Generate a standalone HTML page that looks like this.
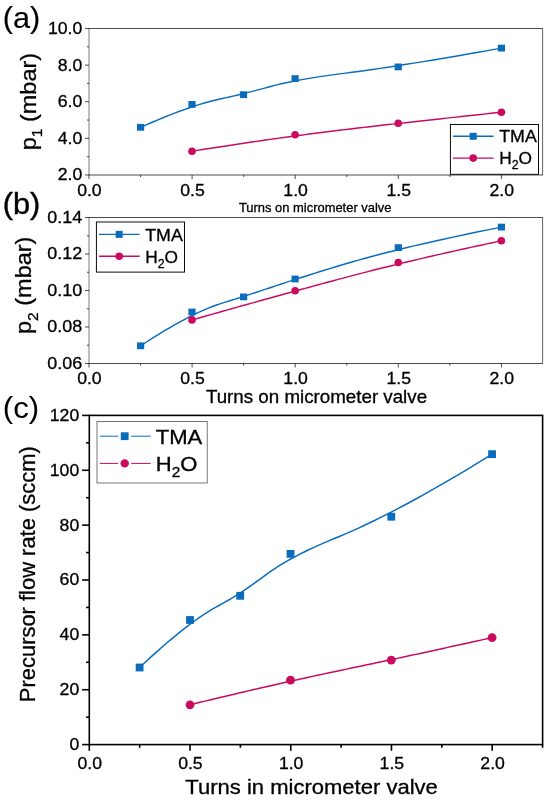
<!DOCTYPE html>
<html lang="en">
<head>
<meta charset="utf-8">
<title>Precursor pressure and flow rate versus micrometer valve turns</title>
<style>
html,body{margin:0;padding:0;background:#fff;}
body{width:550px;height:801px;overflow:hidden;}
svg{display:block;font-family:"Liberation Sans",sans-serif;}
</style>
</head>
<body>
<svg width="550" height="801" viewBox="0 0 550 801">
<rect width="550" height="801" fill="#fff"/>
<line x1="88.7" y1="28.5" x2="542.9" y2="28.5" stroke="#000" stroke-width="0.7"/>
<line x1="88.7" y1="175" x2="542.9" y2="175" stroke="#000" stroke-width="0.7"/>
<line x1="89" y1="28.5" x2="89" y2="175" stroke="#000" stroke-width="0.52"/>
<line x1="542.6" y1="28.5" x2="542.6" y2="175" stroke="#000" stroke-width="0.62"/>
<line x1="85" y1="28.5" x2="89" y2="28.5" stroke="#000" stroke-width="0.7"/>
<text transform="translate(82.2 33.9) scale(1.05 1)" font-size="16.8" text-anchor="end" fill="#000" stroke="#000" stroke-width="0.3">10.0</text>
<line x1="87" y1="46.81" x2="89" y2="46.81" stroke="#000" stroke-width="0.7"/>
<line x1="85" y1="65.12" x2="89" y2="65.12" stroke="#000" stroke-width="0.7"/>
<text transform="translate(82.2 70.53) scale(1.05 1)" font-size="16.8" text-anchor="end" fill="#000" stroke="#000" stroke-width="0.3">8.0</text>
<line x1="87" y1="83.44" x2="89" y2="83.44" stroke="#000" stroke-width="0.7"/>
<line x1="85" y1="101.75" x2="89" y2="101.75" stroke="#000" stroke-width="0.7"/>
<text transform="translate(82.2 107.15) scale(1.05 1)" font-size="16.8" text-anchor="end" fill="#000" stroke="#000" stroke-width="0.3">6.0</text>
<line x1="87" y1="120.06" x2="89" y2="120.06" stroke="#000" stroke-width="0.7"/>
<line x1="85" y1="138.38" x2="89" y2="138.38" stroke="#000" stroke-width="0.7"/>
<text transform="translate(82.2 143.78) scale(1.05 1)" font-size="16.8" text-anchor="end" fill="#000" stroke="#000" stroke-width="0.3">4.0</text>
<line x1="87" y1="156.69" x2="89" y2="156.69" stroke="#000" stroke-width="0.7"/>
<line x1="85" y1="175" x2="89" y2="175" stroke="#000" stroke-width="0.7"/>
<text transform="translate(82.2 180.4) scale(1.05 1)" font-size="16.8" text-anchor="end" fill="#000" stroke="#000" stroke-width="0.3">2.0</text>
<line x1="89" y1="175" x2="89" y2="179" stroke="#000" stroke-width="0.7"/>
<text transform="translate(89.4 195.5) scale(1.05 1)" font-size="16.8" text-anchor="middle" fill="#000" stroke="#000" stroke-width="0.3">0.0</text>
<line x1="140.55" y1="175" x2="140.55" y2="177" stroke="#000" stroke-width="0.7"/>
<line x1="192.1" y1="175" x2="192.1" y2="179" stroke="#000" stroke-width="0.7"/>
<text transform="translate(192.5 195.5) scale(1.05 1)" font-size="16.8" text-anchor="middle" fill="#000" stroke="#000" stroke-width="0.3">0.5</text>
<line x1="243.65" y1="175" x2="243.65" y2="177" stroke="#000" stroke-width="0.7"/>
<line x1="295.2" y1="175" x2="295.2" y2="179" stroke="#000" stroke-width="0.7"/>
<text transform="translate(295.6 195.5) scale(1.05 1)" font-size="16.8" text-anchor="middle" fill="#000" stroke="#000" stroke-width="0.3">1.0</text>
<line x1="346.75" y1="175" x2="346.75" y2="177" stroke="#000" stroke-width="0.7"/>
<line x1="398.3" y1="175" x2="398.3" y2="179" stroke="#000" stroke-width="0.7"/>
<text transform="translate(398.7 195.5) scale(1.05 1)" font-size="16.8" text-anchor="middle" fill="#000" stroke="#000" stroke-width="0.3">1.5</text>
<line x1="449.85" y1="175" x2="449.85" y2="177" stroke="#000" stroke-width="0.7"/>
<line x1="501.4" y1="175" x2="501.4" y2="179" stroke="#000" stroke-width="0.7"/>
<text transform="translate(501.8 195.5) scale(1.05 1)" font-size="16.8" text-anchor="middle" fill="#000" stroke="#000" stroke-width="0.3">2.0</text>
<text transform="translate(2.8 27.8) scale(1.04 1)" font-size="29.5" text-anchor="start" fill="#000" stroke="#000" stroke-width="0.15">(a)</text>
<text transform="translate(35.8 101.6) rotate(-90) scale(1.04 1)" font-size="22.6" text-anchor="middle" fill="#000" stroke="#000" stroke-width="0.3">p<tspan font-size="15" dy="6.4">1</tspan><tspan dy="-6.4"> (mbar)</tspan></text>
<text transform="translate(315.2 211.8) scale(1.01 1)" font-size="12.8" text-anchor="middle" fill="#000" stroke="#000" stroke-width="0.3">Turns on micrometer valve</text>
<path d="M140.6 127.3 L146.82 124.56 L152.81 121.98 L158.58 119.55 L164.13 117.27 L169.47 115.14 L174.61 113.15 L179.55 111.29 L184.29 109.56 L188.84 107.96 L193.21 106.49 L197.4 105.13 L201.42 103.89 L205.27 102.75 L208.95 101.72 L212.48 100.79 L215.86 99.95 L219.08 99.2 L222.19 98.52 L225.25 97.86 L228.26 97.2 L231.23 96.54 L234.17 95.87 L237.07 95.2 L239.96 94.52 L242.82 93.82 L245.67 93.12 L248.51 92.4 L251.35 91.67 L254.2 90.92 L257.05 90.17 L259.91 89.4 L262.79 88.62 L265.69 87.83 L268.63 87.03 L271.61 86.21 L274.7 85.4 L277.92 84.6 L281.28 83.8 L284.79 83.01 L288.43 82.22 L292.24 81.44 L296.19 80.66 L300.32 79.9 L304.61 79.13 L309.07 78.38 L313.71 77.63 L318.54 76.88 L323.55 76.14 L328.77 75.4 L334.2 74.65 L339.85 73.9 L345.73 73.14 L351.9 72.32 L358.4 71.44 L365.25 70.49 L372.44 69.47 L379.98 68.37 L387.89 67.19 L396.18 65.93 L404.84 64.59 L413.9 63.15 L423.35 61.63 L433.21 60 L443.49 58.28 L454.19 56.46 L465.32 54.54 L476.9 52.5 L488.92 50.36 L501.4 48.1" fill="none" stroke="#0a6cbd" stroke-width="1.45" stroke-linejoin="round" stroke-linecap="round"/>
<rect x="137" y="123.9" width="7.2" height="6.8" fill="#0a6cbd"/>
<rect x="188.4" y="101" width="7.2" height="6.8" fill="#0a6cbd"/>
<rect x="239.9" y="91.3" width="7.2" height="6.8" fill="#0a6cbd"/>
<rect x="291.5" y="75.2" width="7.2" height="6.8" fill="#0a6cbd"/>
<rect x="394.6" y="63.5" width="7.2" height="6.8" fill="#0a6cbd"/>
<rect x="497.8" y="44.7" width="7.2" height="6.8" fill="#0a6cbd"/>
<path d="M192 151.2 L197.21 150.37 L202.37 149.56 L207.49 148.76 L212.57 147.97 L217.61 147.19 L222.6 146.42 L227.55 145.67 L232.45 144.93 L237.31 144.2 L242.13 143.48 L246.91 142.77 L251.64 142.07 L256.33 141.39 L260.97 140.71 L265.57 140.05 L270.13 139.4 L274.65 138.76 L279.12 138.14 L283.55 137.52 L287.93 136.91 L292.28 136.32 L296.57 135.74 L300.83 135.17 L305.04 134.61 L309.21 134.06 L313.34 133.52 L317.42 132.99 L321.46 132.47 L325.45 131.97 L329.41 131.47 L333.31 130.99 L337.18 130.52 L341 130.05 L344.78 129.6 L348.53 129.16 L352.31 128.72 L356.13 128.27 L360 127.82 L363.91 127.37 L367.86 126.91 L371.86 126.45 L375.9 125.99 L379.98 125.53 L384.11 125.06 L388.28 124.59 L392.49 124.11 L396.75 123.63 L401.05 123.15 L405.39 122.67 L409.78 122.18 L414.21 121.69 L418.69 121.19 L423.21 120.69 L427.77 120.19 L432.37 119.69 L437.02 119.18 L441.71 118.66 L446.45 118.15 L451.22 117.63 L456.05 117.1 L460.91 116.57 L465.82 116.04 L470.77 115.5 L475.77 114.96 L480.81 114.42 L485.89 113.87 L491.02 113.32 L496.19 112.76 L501.4 112.2" fill="none" stroke="#c90a5e" stroke-width="1.45" stroke-linejoin="round" stroke-linecap="round"/>
<circle cx="192" cy="151.2" r="3.8" fill="#c90a5e"/>
<circle cx="295.1" cy="134.8" r="3.8" fill="#c90a5e"/>
<circle cx="398.2" cy="123.3" r="3.8" fill="#c90a5e"/>
<circle cx="501.4" cy="112.2" r="3.8" fill="#c90a5e"/>
<rect x="450.4" y="124.5" width="88.1" height="49.8" fill="#fff" stroke="#000" stroke-width="0.95"/>
<line x1="453" y1="136.3" x2="493.6" y2="136.3" stroke="#0a6cbd" stroke-width="1.4"/>
<rect x="469.7" y="132.8" width="7" height="7" fill="#0a6cbd"/>
<line x1="453" y1="158.1" x2="493.6" y2="158.1" stroke="#c90a5e" stroke-width="1.4"/>
<circle cx="473.2" cy="158.1" r="3.8" fill="#c90a5e"/>
<text transform="translate(499.2 142.4) scale(1.03 1)" font-size="17.3" text-anchor="start" fill="#000" stroke="#000" stroke-width="0.3">TMA</text>
<text transform="translate(499.2 164.4)" font-size="17.3" text-anchor="start" fill="#000" stroke="#000" stroke-width="0.3">H<tspan font-size="12.3" dy="5">2</tspan><tspan dy="-5">O</tspan></text>
<line x1="88.7" y1="217.5" x2="542.9" y2="217.5" stroke="#000" stroke-width="0.7"/>
<line x1="88.7" y1="363.5" x2="542.9" y2="363.5" stroke="#000" stroke-width="0.7"/>
<line x1="89" y1="217.5" x2="89" y2="363.5" stroke="#000" stroke-width="0.52"/>
<line x1="542.6" y1="217.5" x2="542.6" y2="363.5" stroke="#000" stroke-width="0.62"/>
<line x1="85" y1="217.5" x2="89" y2="217.5" stroke="#000" stroke-width="0.7"/>
<text transform="translate(82.2 222.9) scale(1.07 1)" font-size="16.8" text-anchor="end" fill="#000" stroke="#000" stroke-width="0.3">0.14</text>
<line x1="87" y1="235.75" x2="89" y2="235.75" stroke="#000" stroke-width="0.7"/>
<line x1="85" y1="254" x2="89" y2="254" stroke="#000" stroke-width="0.7"/>
<text transform="translate(82.2 259.4) scale(1.07 1)" font-size="16.8" text-anchor="end" fill="#000" stroke="#000" stroke-width="0.3">0.12</text>
<line x1="87" y1="272.25" x2="89" y2="272.25" stroke="#000" stroke-width="0.7"/>
<line x1="85" y1="290.5" x2="89" y2="290.5" stroke="#000" stroke-width="0.7"/>
<text transform="translate(82.2 295.9) scale(1.07 1)" font-size="16.8" text-anchor="end" fill="#000" stroke="#000" stroke-width="0.3">0.10</text>
<line x1="87" y1="308.75" x2="89" y2="308.75" stroke="#000" stroke-width="0.7"/>
<line x1="85" y1="327" x2="89" y2="327" stroke="#000" stroke-width="0.7"/>
<text transform="translate(82.2 332.4) scale(1.07 1)" font-size="16.8" text-anchor="end" fill="#000" stroke="#000" stroke-width="0.3">0.08</text>
<line x1="87" y1="345.25" x2="89" y2="345.25" stroke="#000" stroke-width="0.7"/>
<line x1="85" y1="363.5" x2="89" y2="363.5" stroke="#000" stroke-width="0.7"/>
<text transform="translate(82.2 368.9) scale(1.07 1)" font-size="16.8" text-anchor="end" fill="#000" stroke="#000" stroke-width="0.3">0.06</text>
<line x1="89" y1="363.5" x2="89" y2="367.5" stroke="#000" stroke-width="0.7"/>
<text transform="translate(89.4 384.3) scale(1.05 1)" font-size="16.8" text-anchor="middle" fill="#000" stroke="#000" stroke-width="0.3">0.0</text>
<line x1="140.55" y1="363.5" x2="140.55" y2="365.5" stroke="#000" stroke-width="0.7"/>
<line x1="192.1" y1="363.5" x2="192.1" y2="367.5" stroke="#000" stroke-width="0.7"/>
<text transform="translate(192.5 384.3) scale(1.05 1)" font-size="16.8" text-anchor="middle" fill="#000" stroke="#000" stroke-width="0.3">0.5</text>
<line x1="243.65" y1="363.5" x2="243.65" y2="365.5" stroke="#000" stroke-width="0.7"/>
<line x1="295.2" y1="363.5" x2="295.2" y2="367.5" stroke="#000" stroke-width="0.7"/>
<text transform="translate(295.6 384.3) scale(1.05 1)" font-size="16.8" text-anchor="middle" fill="#000" stroke="#000" stroke-width="0.3">1.0</text>
<line x1="346.75" y1="363.5" x2="346.75" y2="365.5" stroke="#000" stroke-width="0.7"/>
<line x1="398.3" y1="363.5" x2="398.3" y2="367.5" stroke="#000" stroke-width="0.7"/>
<text transform="translate(398.7 384.3) scale(1.05 1)" font-size="16.8" text-anchor="middle" fill="#000" stroke="#000" stroke-width="0.3">1.5</text>
<line x1="449.85" y1="363.5" x2="449.85" y2="365.5" stroke="#000" stroke-width="0.7"/>
<line x1="501.4" y1="363.5" x2="501.4" y2="367.5" stroke="#000" stroke-width="0.7"/>
<text transform="translate(501.8 384.3) scale(1.05 1)" font-size="16.8" text-anchor="middle" fill="#000" stroke="#000" stroke-width="0.3">2.0</text>
<text transform="translate(2.8 214.1) scale(1.04 1)" font-size="29.5" text-anchor="start" fill="#000" stroke="#000" stroke-width="0.4">(b)</text>
<text transform="translate(31.1 285.3) rotate(-90) scale(1.04 1)" font-size="22.6" text-anchor="middle" fill="#000" stroke="#000" stroke-width="0.3">p<tspan font-size="15" dy="6.4">2</tspan><tspan dy="-6.4"> (mbar)</tspan></text>
<text transform="translate(316.5 402.8) scale(1.06 1)" font-size="17.7" text-anchor="middle" fill="#000" stroke="#000" stroke-width="0.3">Turns on micrometer valve</text>
<path d="M140.6 345.8 L146.82 341.75 L152.81 337.94 L158.58 334.35 L164.13 330.97 L169.48 327.81 L174.62 324.86 L179.56 322.1 L184.3 319.54 L188.86 317.17 L193.23 314.97 L197.43 312.95 L201.45 311.1 L205.3 309.41 L208.99 307.87 L212.52 306.48 L215.9 305.24 L219.13 304.13 L222.24 303.13 L225.3 302.16 L228.32 301.22 L231.29 300.3 L234.23 299.38 L237.14 298.48 L240.02 297.57 L242.89 296.66 L245.74 295.75 L248.58 294.84 L251.42 293.92 L254.26 292.99 L257.11 292.05 L259.97 291.11 L262.85 290.15 L265.75 289.18 L268.68 288.19 L271.65 287.19 L274.74 286.16 L277.96 285.08 L281.32 283.97 L284.82 282.83 L288.47 281.64 L292.27 280.41 L296.23 279.13 L300.35 277.81 L304.64 276.45 L309.1 275.04 L313.74 273.57 L318.57 272.06 L323.59 270.5 L328.82 268.89 L334.25 267.23 L339.9 265.52 L345.78 263.75 L351.95 261.95 L358.46 260.09 L365.31 258.2 L372.5 256.26 L380.05 254.28 L387.96 252.25 L396.24 250.18 L404.9 248.07 L413.96 245.91 L423.41 243.71 L433.26 241.47 L443.53 239.18 L454.23 236.85 L465.35 234.48 L476.92 232.06 L488.93 229.6 L501.4 227.1" fill="none" stroke="#0a6cbd" stroke-width="1.45" stroke-linejoin="round" stroke-linecap="round"/>
<rect x="137" y="342.4" width="7.2" height="6.8" fill="#0a6cbd"/>
<rect x="188.4" y="308.6" width="7.2" height="6.8" fill="#0a6cbd"/>
<rect x="240" y="293.5" width="7.2" height="6.8" fill="#0a6cbd"/>
<rect x="291.5" y="275.6" width="7.2" height="6.8" fill="#0a6cbd"/>
<rect x="394.7" y="244.2" width="7.2" height="6.8" fill="#0a6cbd"/>
<rect x="497.8" y="223.7" width="7.2" height="6.8" fill="#0a6cbd"/>
<path d="M192 319.9 L197.21 318.43 L202.37 316.97 L207.49 315.53 L212.57 314.1 L217.61 312.68 L222.6 311.28 L227.55 309.89 L232.45 308.51 L237.32 307.15 L242.14 305.8 L246.91 304.47 L251.65 303.14 L256.33 301.83 L260.98 300.54 L265.58 299.26 L270.14 297.99 L274.66 296.74 L279.13 295.5 L283.56 294.27 L287.95 293.06 L292.29 291.86 L296.59 290.68 L300.85 289.51 L305.07 288.36 L309.24 287.22 L313.36 286.09 L317.45 284.98 L321.49 283.88 L325.49 282.8 L329.44 281.73 L333.35 280.68 L337.22 279.64 L341.04 278.62 L344.83 277.61 L348.57 276.62 L352.36 275.62 L356.18 274.62 L360.05 273.61 L363.96 272.6 L367.91 271.59 L371.91 270.57 L375.95 269.55 L380.04 268.53 L384.16 267.5 L388.33 266.47 L392.55 265.43 L396.81 264.39 L401.11 263.35 L405.45 262.31 L409.84 261.26 L414.27 260.21 L418.74 259.15 L423.26 258.1 L427.82 257.04 L432.42 255.97 L437.07 254.91 L441.75 253.84 L446.49 252.76 L451.26 251.69 L456.08 250.61 L460.95 249.53 L465.85 248.45 L470.8 247.36 L475.79 246.28 L480.83 245.18 L485.91 244.09 L491.03 243 L496.19 241.9 L501.4 240.8" fill="none" stroke="#c90a5e" stroke-width="1.45" stroke-linejoin="round" stroke-linecap="round"/>
<circle cx="192" cy="319.9" r="3.8" fill="#c90a5e"/>
<circle cx="295.1" cy="290.8" r="3.8" fill="#c90a5e"/>
<circle cx="398.3" cy="262.5" r="3.8" fill="#c90a5e"/>
<circle cx="501.4" cy="240.8" r="3.8" fill="#c90a5e"/>
<rect x="96.4" y="222" width="88.1" height="50.1" fill="#fff" stroke="#000" stroke-width="0.95"/>
<line x1="99" y1="234.4" x2="139.6" y2="234.4" stroke="#0a6cbd" stroke-width="1.4"/>
<rect x="115.7" y="230.9" width="7" height="7" fill="#0a6cbd"/>
<line x1="99" y1="256.2" x2="139.6" y2="256.2" stroke="#c90a5e" stroke-width="1.4"/>
<circle cx="119.2" cy="256.2" r="3.8" fill="#c90a5e"/>
<text transform="translate(145.2 240.5) scale(1.03 1)" font-size="17.3" text-anchor="start" fill="#000" stroke="#000" stroke-width="0.3">TMA</text>
<text transform="translate(145.2 262.5)" font-size="17.3" text-anchor="start" fill="#000" stroke="#000" stroke-width="0.3">H<tspan font-size="12.3" dy="5">2</tspan><tspan dy="-5">O</tspan></text>
<rect x="89.3" y="415.4" width="453.3" height="329.2" fill="none" stroke="#000" stroke-width="1.6"/>
<line x1="82.1" y1="415.4" x2="89.3" y2="415.4" stroke="#000" stroke-width="1.6"/>
<text transform="translate(79.2 420.8) scale(1.05 1)" font-size="16.8" text-anchor="end" fill="#000" stroke="#000" stroke-width="0.3">120</text>
<line x1="86.1" y1="442.83" x2="89.3" y2="442.83" stroke="#000" stroke-width="1.6"/>
<line x1="82.1" y1="470.27" x2="89.3" y2="470.27" stroke="#000" stroke-width="1.6"/>
<text transform="translate(79.2 475.67) scale(1.05 1)" font-size="16.8" text-anchor="end" fill="#000" stroke="#000" stroke-width="0.3">100</text>
<line x1="86.1" y1="497.7" x2="89.3" y2="497.7" stroke="#000" stroke-width="1.6"/>
<line x1="82.1" y1="525.13" x2="89.3" y2="525.13" stroke="#000" stroke-width="1.6"/>
<text transform="translate(79.2 530.53) scale(1.05 1)" font-size="16.8" text-anchor="end" fill="#000" stroke="#000" stroke-width="0.3">80</text>
<line x1="86.1" y1="552.57" x2="89.3" y2="552.57" stroke="#000" stroke-width="1.6"/>
<line x1="82.1" y1="580" x2="89.3" y2="580" stroke="#000" stroke-width="1.6"/>
<text transform="translate(79.2 585.4) scale(1.05 1)" font-size="16.8" text-anchor="end" fill="#000" stroke="#000" stroke-width="0.3">60</text>
<line x1="86.1" y1="607.43" x2="89.3" y2="607.43" stroke="#000" stroke-width="1.6"/>
<line x1="82.1" y1="634.87" x2="89.3" y2="634.87" stroke="#000" stroke-width="1.6"/>
<text transform="translate(79.2 640.27) scale(1.05 1)" font-size="16.8" text-anchor="end" fill="#000" stroke="#000" stroke-width="0.3">40</text>
<line x1="86.1" y1="662.3" x2="89.3" y2="662.3" stroke="#000" stroke-width="1.6"/>
<line x1="82.1" y1="689.73" x2="89.3" y2="689.73" stroke="#000" stroke-width="1.6"/>
<text transform="translate(79.2 695.13) scale(1.05 1)" font-size="16.8" text-anchor="end" fill="#000" stroke="#000" stroke-width="0.3">20</text>
<line x1="86.1" y1="717.17" x2="89.3" y2="717.17" stroke="#000" stroke-width="1.6"/>
<line x1="82.1" y1="744.6" x2="89.3" y2="744.6" stroke="#000" stroke-width="1.6"/>
<text transform="translate(79.2 750) scale(1.05 1)" font-size="16.8" text-anchor="end" fill="#000" stroke="#000" stroke-width="0.3">0</text>
<line x1="89.3" y1="744.6" x2="89.3" y2="750.8" stroke="#000" stroke-width="1.6"/>
<text transform="translate(89.7 768.8) scale(1.05 1)" font-size="16.8" text-anchor="middle" fill="#000" stroke="#000" stroke-width="0.3">0.0</text>
<line x1="139.66" y1="744.6" x2="139.66" y2="747.8" stroke="#000" stroke-width="1.6"/>
<line x1="190.02" y1="744.6" x2="190.02" y2="750.8" stroke="#000" stroke-width="1.6"/>
<text transform="translate(190.42 768.8) scale(1.05 1)" font-size="16.8" text-anchor="middle" fill="#000" stroke="#000" stroke-width="0.3">0.5</text>
<line x1="240.39" y1="744.6" x2="240.39" y2="747.8" stroke="#000" stroke-width="1.6"/>
<line x1="290.75" y1="744.6" x2="290.75" y2="750.8" stroke="#000" stroke-width="1.6"/>
<text transform="translate(291.15 768.8) scale(1.05 1)" font-size="16.8" text-anchor="middle" fill="#000" stroke="#000" stroke-width="0.3">1.0</text>
<line x1="341.11" y1="744.6" x2="341.11" y2="747.8" stroke="#000" stroke-width="1.6"/>
<line x1="391.47" y1="744.6" x2="391.47" y2="750.8" stroke="#000" stroke-width="1.6"/>
<text transform="translate(391.87 768.8) scale(1.05 1)" font-size="16.8" text-anchor="middle" fill="#000" stroke="#000" stroke-width="0.3">1.5</text>
<line x1="441.84" y1="744.6" x2="441.84" y2="747.8" stroke="#000" stroke-width="1.6"/>
<line x1="492.2" y1="744.6" x2="492.2" y2="750.8" stroke="#000" stroke-width="1.6"/>
<text transform="translate(492.6 768.8) scale(1.05 1)" font-size="16.8" text-anchor="middle" fill="#000" stroke="#000" stroke-width="0.3">2.0</text>
<line x1="542.56" y1="744.6" x2="542.56" y2="747.8" stroke="#000" stroke-width="1.6"/>
<text transform="translate(2.8 417.7) scale(1.06 1)" font-size="29.5" text-anchor="start" fill="#000">(c)</text>
<text transform="translate(35.2 574.2) rotate(-90) scale(1.03 1)" font-size="21.3" text-anchor="middle" fill="#000" stroke="#000" stroke-width="0.3">Precursor flow rate (sccm)</text>
<text transform="translate(311.6 794.2) scale(1.08 1)" font-size="20.4" text-anchor="middle" fill="#000" stroke="#000" stroke-width="0.3">Turns in micrometer valve</text>
<path d="M139.6 667.5 L145.7 661.81 L151.57 656.42 L157.22 651.34 L162.66 646.56 L167.9 642.05 L172.93 637.82 L177.76 633.86 L182.4 630.16 L186.86 626.7 L191.13 623.48 L195.23 620.49 L199.15 617.72 L202.91 615.17 L206.51 612.82 L209.95 610.66 L213.25 608.69 L216.4 606.89 L219.43 605.22 L222.41 603.56 L225.34 601.91 L228.24 600.25 L231.1 598.56 L233.94 596.86 L236.75 595.12 L239.54 593.34 L242.32 591.53 L245.09 589.68 L247.86 587.8 L250.63 585.88 L253.41 583.92 L256.2 581.93 L259.01 579.9 L261.84 577.83 L264.7 575.72 L267.6 573.57 L270.62 571.42 L273.77 569.27 L277.04 567.12 L280.46 564.96 L284.02 562.8 L287.74 560.64 L291.6 558.48 L295.63 556.31 L299.82 554.13 L304.18 551.96 L308.71 549.77 L313.43 547.58 L318.33 545.38 L323.43 543.15 L328.74 540.88 L334.26 538.56 L340 536.19 L346.03 533.64 L352.39 530.85 L359.08 527.82 L366.11 524.54 L373.48 521 L381.21 517.18 L389.31 513.08 L397.77 508.68 L406.62 503.98 L415.86 498.97 L425.49 493.63 L435.53 487.95 L445.98 481.93 L456.86 475.56 L468.16 468.82 L479.91 461.7 L492.1 454.2" fill="none" stroke="#0a6cbd" stroke-width="1.5" stroke-linejoin="round" stroke-linecap="round"/>
<rect x="135.7" y="663.6" width="7.8" height="7.8" fill="#0a6cbd"/>
<rect x="186.1" y="616.1" width="7.8" height="7.8" fill="#0a6cbd"/>
<rect x="236.3" y="591.9" width="7.8" height="7.8" fill="#0a6cbd"/>
<rect x="286.6" y="550" width="7.8" height="7.8" fill="#0a6cbd"/>
<rect x="387.4" y="512.8" width="7.8" height="7.8" fill="#0a6cbd"/>
<rect x="488.2" y="450.3" width="7.8" height="7.8" fill="#0a6cbd"/>
<path d="M190 704.8 L195.08 703.56 L200.11 702.33 L205.1 701.12 L210.06 699.93 L214.97 698.75 L219.83 697.58 L224.66 696.43 L229.44 695.29 L234.18 694.17 L238.88 693.06 L243.54 691.97 L248.16 690.89 L252.73 689.83 L257.26 688.78 L261.75 687.74 L266.2 686.72 L270.61 685.71 L274.97 684.72 L279.29 683.74 L283.57 682.77 L287.81 681.82 L292.01 680.88 L296.16 679.96 L300.27 679.04 L304.34 678.15 L308.37 677.26 L312.36 676.39 L316.3 675.53 L320.21 674.69 L324.07 673.86 L327.88 673.04 L331.66 672.24 L335.4 671.44 L339.09 670.67 L342.75 669.9 L346.44 669.12 L350.18 668.34 L353.96 667.54 L357.78 666.74 L361.64 665.92 L365.54 665.09 L369.49 664.26 L373.48 663.41 L377.51 662.56 L381.59 661.69 L385.71 660.81 L389.87 659.92 L394.07 659.02 L398.31 658.12 L402.6 657.2 L406.93 656.27 L411.3 655.32 L415.71 654.37 L420.17 653.41 L424.67 652.43 L429.21 651.45 L433.79 650.45 L438.42 649.44 L443.09 648.42 L447.8 647.39 L452.55 646.35 L457.35 645.3 L462.18 644.23 L467.06 643.16 L471.99 642.07 L476.95 640.97 L481.96 639.86 L487.01 638.74 L492.1 637.6" fill="none" stroke="#c90a5e" stroke-width="1.5" stroke-linejoin="round" stroke-linecap="round"/>
<circle cx="190" cy="704.8" r="4.4" fill="#c90a5e"/>
<circle cx="290.5" cy="680.2" r="4.4" fill="#c90a5e"/>
<circle cx="391.3" cy="660.1" r="4.4" fill="#c90a5e"/>
<circle cx="492.1" cy="637.6" r="4.4" fill="#c90a5e"/>
<rect x="97" y="421.5" width="110.2" height="61.5" fill="#fff" stroke="#555" stroke-width="0.8"/>
<line x1="99.8" y1="436.2" x2="118.2" y2="436.2" stroke="#0a6cbd" stroke-width="1"/>
<line x1="131.2" y1="436.2" x2="150.7" y2="436.2" stroke="#0a6cbd" stroke-width="1"/>
<line x1="99.8" y1="463.4" x2="118.2" y2="463.4" stroke="#c90a5e" stroke-width="1"/>
<line x1="131.2" y1="463.4" x2="150.7" y2="463.4" stroke="#c90a5e" stroke-width="1"/>
<rect x="120.8" y="432.3" width="7.8" height="7.8" fill="#0a6cbd"/>
<circle cx="124.7" cy="463.4" r="4.2" fill="#c90a5e"/>
<text transform="translate(155.8 443.9) scale(1.07 1)" font-size="20.6" text-anchor="start" fill="#000" stroke="#000" stroke-width="0.3">TMA</text>
<text transform="translate(155.8 471.1) scale(1.07 1)" font-size="20.6" text-anchor="start" fill="#000" stroke="#000" stroke-width="0.3">H<tspan font-size="14.5" dy="5.6">2</tspan><tspan dy="-5.6">O</tspan></text>
</svg>
</body>
</html>
